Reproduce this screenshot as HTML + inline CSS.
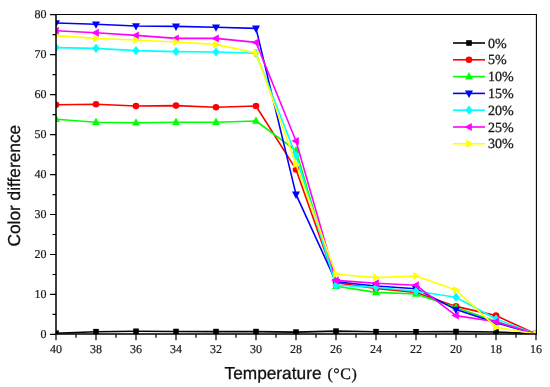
<!DOCTYPE html>
<html><head><meta charset="utf-8"><title>Color difference vs Temperature</title>
<style>
html,body{margin:0;padding:0;background:#fff;}
body{width:550px;height:387px;overflow:hidden;}
svg{display:block;text-rendering:geometricPrecision;}
.wrap{}
.tk{font-family:"Liberation Serif",serif;font-size:12px;fill:#1a1a1a;stroke:#1a1a1a;stroke-width:0.2px;}
.lg{font-family:"Liberation Serif",serif;font-size:14px;fill:#1a1a1a;stroke:#1a1a1a;stroke-width:0.3px;}
.ttl{font-family:"Liberation Sans",sans-serif;font-size:17.3px;fill:#111;stroke:#111;stroke-width:0.3px;}
</style></head><body><div class="wrap">
<svg width="550" height="387" viewBox="0 0 550 387">
<rect width="550" height="387" fill="#fff"/>
<defs><clipPath id="pa"><rect x="56" y="14.5" width="480.5" height="319.5"/></clipPath></defs>

<g clip-path="url(#pa)">
<polyline points="56,333.20 96,331.68 136,331.28 176,331.52 216,331.60 256,331.60 296,332.08 336,331.12 376,331.68 416,331.76 456,331.60 496,332.00 536,333.60" fill="none" stroke="#000000" stroke-width="1.6" stroke-linejoin="round"/>
<rect x="53.20" y="330.40" width="5.6" height="5.6" fill="#000000"/>
<rect x="93.20" y="328.88" width="5.6" height="5.6" fill="#000000"/>
<rect x="133.20" y="328.48" width="5.6" height="5.6" fill="#000000"/>
<rect x="173.20" y="328.72" width="5.6" height="5.6" fill="#000000"/>
<rect x="213.20" y="328.80" width="5.6" height="5.6" fill="#000000"/>
<rect x="253.20" y="328.80" width="5.6" height="5.6" fill="#000000"/>
<rect x="293.20" y="329.28" width="5.6" height="5.6" fill="#000000"/>
<rect x="333.20" y="328.32" width="5.6" height="5.6" fill="#000000"/>
<rect x="373.20" y="328.88" width="5.6" height="5.6" fill="#000000"/>
<rect x="413.20" y="328.96" width="5.6" height="5.6" fill="#000000"/>
<rect x="453.20" y="328.80" width="5.6" height="5.6" fill="#000000"/>
<rect x="493.20" y="329.20" width="5.6" height="5.6" fill="#000000"/>
<rect x="533.20" y="330.80" width="5.6" height="5.6" fill="#000000"/>
<polyline points="56,104.80 96,104.20 136,106.00 176,105.60 216,107.20 256,106.00 296,169.40 336,282.80 376,288.40 416,292.40 456,306.40 496,315.60 536,334.00" fill="none" stroke="#ff0000" stroke-width="1.6" stroke-linejoin="round"/>
<circle cx="56.00" cy="104.80" r="3.3" fill="#ff0000"/>
<circle cx="96.00" cy="104.20" r="3.3" fill="#ff0000"/>
<circle cx="136.00" cy="106.00" r="3.3" fill="#ff0000"/>
<circle cx="176.00" cy="105.60" r="3.3" fill="#ff0000"/>
<circle cx="216.00" cy="107.20" r="3.3" fill="#ff0000"/>
<circle cx="256.00" cy="106.00" r="3.3" fill="#ff0000"/>
<circle cx="296.00" cy="169.40" r="3.3" fill="#ff0000"/>
<circle cx="336.00" cy="282.80" r="3.3" fill="#ff0000"/>
<circle cx="376.00" cy="288.40" r="3.3" fill="#ff0000"/>
<circle cx="416.00" cy="292.40" r="3.3" fill="#ff0000"/>
<circle cx="456.00" cy="306.40" r="3.3" fill="#ff0000"/>
<circle cx="496.00" cy="315.60" r="3.3" fill="#ff0000"/>
<circle cx="536.00" cy="334.00" r="3.3" fill="#ff0000"/>
<polyline points="56,119.20 96,122.20 136,122.80 176,122.20 216,122.20 256,121.00 296,150.60 336,286.20 376,292.40 416,294.00 456,307.60 496,321.60 536,334.00" fill="none" stroke="#00ff00" stroke-width="1.6" stroke-linejoin="round"/>
<polygon points="56.00,114.60 60.00,122.00 52.00,122.00" fill="#00ff00"/>
<polygon points="96.00,117.60 100.00,125.00 92.00,125.00" fill="#00ff00"/>
<polygon points="136.00,118.20 140.00,125.60 132.00,125.60" fill="#00ff00"/>
<polygon points="176.00,117.60 180.00,125.00 172.00,125.00" fill="#00ff00"/>
<polygon points="216.00,117.60 220.00,125.00 212.00,125.00" fill="#00ff00"/>
<polygon points="256.00,116.40 260.00,123.80 252.00,123.80" fill="#00ff00"/>
<polygon points="296.00,146.00 300.00,153.40 292.00,153.40" fill="#00ff00"/>
<polygon points="336.00,281.60 340.00,289.00 332.00,289.00" fill="#00ff00"/>
<polygon points="376.00,287.80 380.00,295.20 372.00,295.20" fill="#00ff00"/>
<polygon points="416.00,289.40 420.00,296.80 412.00,296.80" fill="#00ff00"/>
<polygon points="456.00,303.00 460.00,310.40 452.00,310.40" fill="#00ff00"/>
<polygon points="496.00,317.00 500.00,324.40 492.00,324.40" fill="#00ff00"/>
<polygon points="536.00,329.40 540.00,336.80 532.00,336.80" fill="#00ff00"/>
<polyline points="56,23.00 96,24.20 136,26.00 176,26.40 216,27.20 256,28.40 296,194.40 336,281.80 376,286.00 416,288.80 456,309.60 496,322.80 536,334.00" fill="none" stroke="#0000ff" stroke-width="1.6" stroke-linejoin="round"/>
<polygon points="56.00,27.60 60.00,20.20 52.00,20.20" fill="#0000ff"/>
<polygon points="96.00,28.80 100.00,21.40 92.00,21.40" fill="#0000ff"/>
<polygon points="136.00,30.60 140.00,23.20 132.00,23.20" fill="#0000ff"/>
<polygon points="176.00,31.00 180.00,23.60 172.00,23.60" fill="#0000ff"/>
<polygon points="216.00,31.80 220.00,24.40 212.00,24.40" fill="#0000ff"/>
<polygon points="256.00,33.00 260.00,25.60 252.00,25.60" fill="#0000ff"/>
<polygon points="296.00,199.00 300.00,191.60 292.00,191.60" fill="#0000ff"/>
<polygon points="336.00,286.40 340.00,279.00 332.00,279.00" fill="#0000ff"/>
<polygon points="376.00,290.60 380.00,283.20 372.00,283.20" fill="#0000ff"/>
<polygon points="416.00,293.40 420.00,286.00 412.00,286.00" fill="#0000ff"/>
<polygon points="456.00,314.20 460.00,306.80 452.00,306.80" fill="#0000ff"/>
<polygon points="496.00,327.40 500.00,320.00 492.00,320.00" fill="#0000ff"/>
<polygon points="536.00,338.60 540.00,331.20 532.00,331.20" fill="#0000ff"/>
<polyline points="56,47.60 96,48.40 136,50.60 176,51.60 216,52.00 256,53.20 296,155.80 336,285.20 376,287.20 416,291.20 456,297.20 496,319.00 536,334.00" fill="none" stroke="#00ffff" stroke-width="1.6" stroke-linejoin="round"/>
<polygon points="56.00,43.00 59.70,47.60 56.00,52.20 52.30,47.60" fill="#00ffff"/>
<polygon points="96.00,43.80 99.70,48.40 96.00,53.00 92.30,48.40" fill="#00ffff"/>
<polygon points="136.00,46.00 139.70,50.60 136.00,55.20 132.30,50.60" fill="#00ffff"/>
<polygon points="176.00,47.00 179.70,51.60 176.00,56.20 172.30,51.60" fill="#00ffff"/>
<polygon points="216.00,47.40 219.70,52.00 216.00,56.60 212.30,52.00" fill="#00ffff"/>
<polygon points="256.00,48.60 259.70,53.20 256.00,57.80 252.30,53.20" fill="#00ffff"/>
<polygon points="296.00,151.20 299.70,155.80 296.00,160.40 292.30,155.80" fill="#00ffff"/>
<polygon points="336.00,280.60 339.70,285.20 336.00,289.80 332.30,285.20" fill="#00ffff"/>
<polygon points="376.00,282.60 379.70,287.20 376.00,291.80 372.30,287.20" fill="#00ffff"/>
<polygon points="416.00,286.60 419.70,291.20 416.00,295.80 412.30,291.20" fill="#00ffff"/>
<polygon points="456.00,292.60 459.70,297.20 456.00,301.80 452.30,297.20" fill="#00ffff"/>
<polygon points="496.00,314.40 499.70,319.00 496.00,323.60 492.30,319.00" fill="#00ffff"/>
<polygon points="536.00,329.40 539.70,334.00 536.00,338.60 532.30,334.00" fill="#00ffff"/>
<polyline points="56,30.80 96,32.80 136,35.40 176,38.40 216,38.40 256,42.40 296,141.00 336,280.40 376,283.20 416,285.20 456,315.60 496,321.80 536,334.00" fill="none" stroke="#ff00ff" stroke-width="1.6" stroke-linejoin="round"/>
<polygon points="51.40,30.80 58.80,26.80 58.80,34.80" fill="#ff00ff"/>
<polygon points="91.40,32.80 98.80,28.80 98.80,36.80" fill="#ff00ff"/>
<polygon points="131.40,35.40 138.80,31.40 138.80,39.40" fill="#ff00ff"/>
<polygon points="171.40,38.40 178.80,34.40 178.80,42.40" fill="#ff00ff"/>
<polygon points="211.40,38.40 218.80,34.40 218.80,42.40" fill="#ff00ff"/>
<polygon points="251.40,42.40 258.80,38.40 258.80,46.40" fill="#ff00ff"/>
<polygon points="291.40,141.00 298.80,137.00 298.80,145.00" fill="#ff00ff"/>
<polygon points="331.40,280.40 338.80,276.40 338.80,284.40" fill="#ff00ff"/>
<polygon points="371.40,283.20 378.80,279.20 378.80,287.20" fill="#ff00ff"/>
<polygon points="411.40,285.20 418.80,281.20 418.80,289.20" fill="#ff00ff"/>
<polygon points="451.40,315.60 458.80,311.60 458.80,319.60" fill="#ff00ff"/>
<polygon points="491.40,321.80 498.80,317.80 498.80,325.80" fill="#ff00ff"/>
<polygon points="531.40,334.00 538.80,330.00 538.80,338.00" fill="#ff00ff"/>
<polyline points="56,35.60 96,38.40 136,40.00 176,42.00 216,44.40 256,53.00 296,164.20 336,274.20 376,277.60 416,276.00 456,290.00 496,327.20 536,334.00" fill="none" stroke="#ffff00" stroke-width="1.6" stroke-linejoin="round"/>
<polygon points="60.60,35.60 53.20,31.60 53.20,39.60" fill="#ffff00"/>
<polygon points="100.60,38.40 93.20,34.40 93.20,42.40" fill="#ffff00"/>
<polygon points="140.60,40.00 133.20,36.00 133.20,44.00" fill="#ffff00"/>
<polygon points="180.60,42.00 173.20,38.00 173.20,46.00" fill="#ffff00"/>
<polygon points="220.60,44.40 213.20,40.40 213.20,48.40" fill="#ffff00"/>
<polygon points="260.60,53.00 253.20,49.00 253.20,57.00" fill="#ffff00"/>
<polygon points="300.60,164.20 293.20,160.20 293.20,168.20" fill="#ffff00"/>
<polygon points="340.60,274.20 333.20,270.20 333.20,278.20" fill="#ffff00"/>
<polygon points="380.60,277.60 373.20,273.60 373.20,281.60" fill="#ffff00"/>
<polygon points="420.60,276.00 413.20,272.00 413.20,280.00" fill="#ffff00"/>
<polygon points="460.60,290.00 453.20,286.00 453.20,294.00" fill="#ffff00"/>
<polygon points="500.60,327.20 493.20,323.20 493.20,331.20" fill="#ffff00"/>
<polygon points="540.60,334.00 533.20,330.00 533.20,338.00" fill="#ffff00"/>
</g>
<path d="M56,14.5H536.4V334" fill="none" stroke="#000" stroke-width="1.1"/>
<path d="M56,14V333.9H537" fill="none" stroke="#000" stroke-width="1.5"/>
<path d="M50,334.45H56 M52.5,314.46H56 M50,294.47H56 M52.5,274.49H56 M50,254.5H56 M52.5,234.51H56 M50,214.52H56 M52.5,194.53H56 M50,174.55H56 M52.5,154.56H56 M50,134.57H56 M52.5,114.58H56 M50,94.59H56 M52.5,74.61H56 M50,54.62H56 M52.5,34.63H56 M50,14.64H56 M56,334V340.2 M76,334V337.7 M96,334V340.2 M116,334V337.7 M136,334V340.2 M156,334V337.7 M176,334V340.2 M196,334V337.7 M216,334V340.2 M236,334V337.7 M256,334V340.2 M276,334V337.7 M296,334V340.2 M316,334V337.7 M336,334V340.2 M356,334V337.7 M376,334V340.2 M396,334V337.7 M416,334V340.2 M436,334V337.7 M456,334V340.2 M476,334V337.7 M496,334V340.2 M516,334V337.7 M536,334V340.2" stroke="#000" stroke-width="1.2" fill="none"/>
<text class="tk" x="46.5" y="337.85" text-anchor="end">0</text>
<text class="tk" x="46.5" y="297.87" text-anchor="end">10</text>
<text class="tk" x="46.5" y="257.90" text-anchor="end">20</text>
<text class="tk" x="46.5" y="217.92" text-anchor="end">30</text>
<text class="tk" x="46.5" y="177.95" text-anchor="end">40</text>
<text class="tk" x="46.5" y="137.97" text-anchor="end">50</text>
<text class="tk" x="46.5" y="97.99" text-anchor="end">60</text>
<text class="tk" x="46.5" y="58.02" text-anchor="end">70</text>
<text class="tk" x="46.5" y="18.04" text-anchor="end">80</text>
<text class="tk" x="56" y="353" text-anchor="middle">40</text>
<text class="tk" x="96" y="353" text-anchor="middle">38</text>
<text class="tk" x="136" y="353" text-anchor="middle">36</text>
<text class="tk" x="176" y="353" text-anchor="middle">34</text>
<text class="tk" x="216" y="353" text-anchor="middle">32</text>
<text class="tk" x="256" y="353" text-anchor="middle">30</text>
<text class="tk" x="296" y="353" text-anchor="middle">28</text>
<text class="tk" x="336" y="353" text-anchor="middle">26</text>
<text class="tk" x="376" y="353" text-anchor="middle">24</text>
<text class="tk" x="416" y="353" text-anchor="middle">22</text>
<text class="tk" x="456" y="353" text-anchor="middle">20</text>
<text class="tk" x="496" y="353" text-anchor="middle">18</text>
<text class="tk" x="536" y="353" text-anchor="middle">16</text>
<text class="ttl" x="224.5" y="378.5">Temperature <tspan dx="1.2" style="font-family:'Liberation Serif',serif;font-size:16px;letter-spacing:0.5px">(&#176;C)</tspan></text>
<text class="ttl" transform="translate(20.4,246.5) rotate(-90)" x="0" y="0">Color difference</text>
<line x1="453" y1="43.00" x2="485" y2="43.00" stroke="#000000" stroke-width="1.6"/>
<rect x="466.20" y="40.20" width="5.6" height="5.6" fill="#000000"/>
<text class="lg" x="488" y="47.60">0%</text>
<line x1="453" y1="59.80" x2="485" y2="59.80" stroke="#ff0000" stroke-width="1.6"/>
<circle cx="469.00" cy="59.80" r="3.3" fill="#ff0000"/>
<text class="lg" x="488" y="64.40">5%</text>
<line x1="453" y1="76.60" x2="485" y2="76.60" stroke="#00ff00" stroke-width="1.6"/>
<polygon points="469.00,72.00 473.00,79.40 465.00,79.40" fill="#00ff00"/>
<text class="lg" x="488" y="81.20">10%</text>
<line x1="453" y1="93.40" x2="485" y2="93.40" stroke="#0000ff" stroke-width="1.6"/>
<polygon points="469.00,98.00 473.00,90.60 465.00,90.60" fill="#0000ff"/>
<text class="lg" x="488" y="98.00">15%</text>
<line x1="453" y1="110.20" x2="485" y2="110.20" stroke="#00ffff" stroke-width="1.6"/>
<polygon points="469.00,105.60 472.70,110.20 469.00,114.80 465.30,110.20" fill="#00ffff"/>
<text class="lg" x="488" y="114.80">20%</text>
<line x1="453" y1="127.00" x2="485" y2="127.00" stroke="#ff00ff" stroke-width="1.6"/>
<polygon points="464.40,127.00 471.80,123.00 471.80,131.00" fill="#ff00ff"/>
<text class="lg" x="488" y="131.60">25%</text>
<line x1="453" y1="143.80" x2="485" y2="143.80" stroke="#ffff00" stroke-width="1.6"/>
<polygon points="473.60,143.80 466.20,139.80 466.20,147.80" fill="#ffff00"/>
<text class="lg" x="488" y="148.40">30%</text>
</svg></div></body></html>
